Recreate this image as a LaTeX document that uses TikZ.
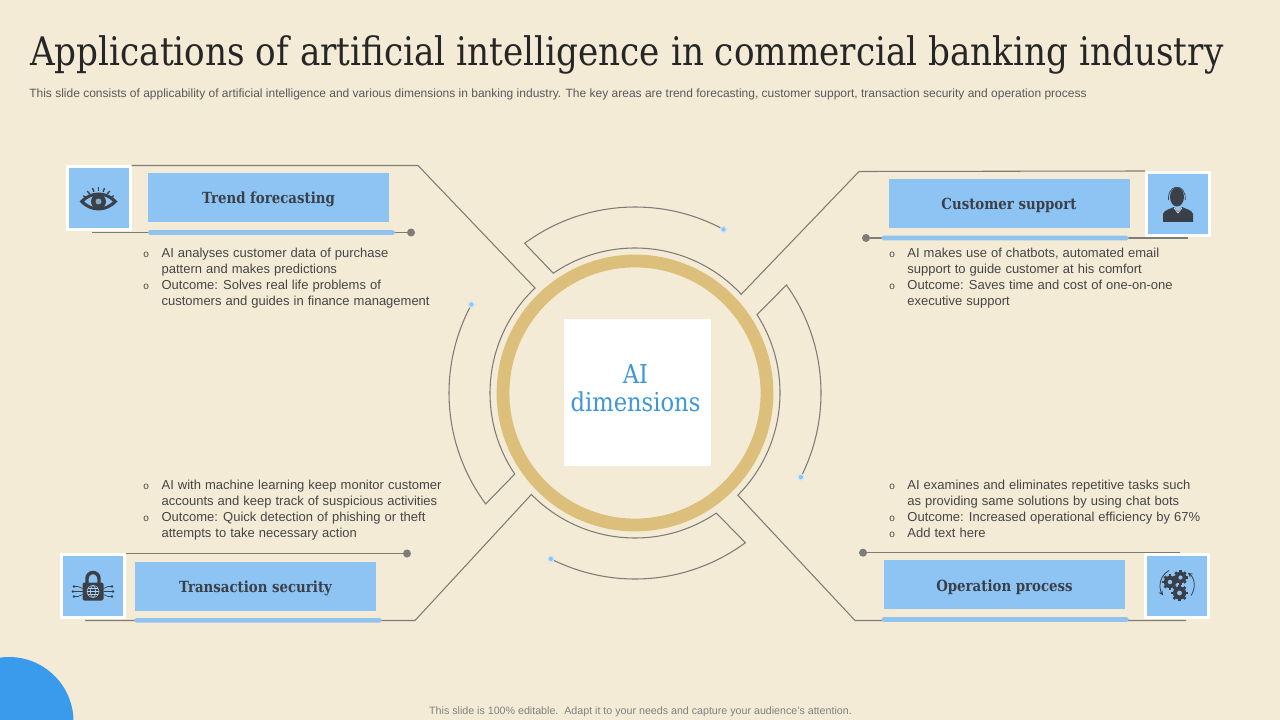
\documentclass[tikz,border=0pt]{standalone}
\usepackage{fontspec}
\setmainfont{Liberation Sans}
\newfontfamily\slabfont[FakeStretch=0.87]{DejaVu Serif}
\usetikzlibrary{positioning,calc}
\definecolor{pagebg}{HTML}{F4EBD7}
\definecolor{tileblue}{HTML}{8DC4F4}
\definecolor{barblue}{HTML}{90C4EE}
\definecolor{ringgold}{HTML}{DBBF7A}
\definecolor{linegray}{HTML}{7F7B75}
\definecolor{inkdark}{HTML}{3A3F48}
\definecolor{bodyink}{HTML}{454545}
\definecolor{centerblue}{HTML}{3D97D8}
\definecolor{cornerblue}{HTML}{3A9BEC}
\tikzset{
	x=0.75pt,y=-0.75pt,
	frameline/.style={draw=linegray,line width=0.8pt},
	icontile/.style={draw=white,line width=2.25pt,fill=tileblue,minimum size=47.25pt,inner sep=0pt},
	labelbox/.style={fill=tileblue,minimum width=180.75pt,minimum height=36.75pt,inner sep=0pt,text height=9.75pt,text depth=0pt,text=inkdark,font=\slabfont\bfseries\fontsize{11.5}{14}\selectfont},
	underbar/.style={fill=barblue,rounded corners=1.2pt,minimum width=185.25pt,minimum height=3.4pt,inner sep=0pt},
	enddot/.style={circle,fill=linegray,minimum size=6pt,inner sep=0pt},
	tipdot/.style={circle,fill=barblue,draw=white!60!barblue,line width=1pt,minimum size=4.5pt,inner sep=0pt},
	bullets/.style={anchor=north west,inner sep=0pt,text=bodyink,font=\fontsize{9.75}{12}\selectfont},
	iconfill/.style={fill=inkdark,draw=none},
	iconline/.style={draw=inkdark,line width=0.7pt}
}
\newcommand{\itemrows}[1]{\spaceskip=.31em\begin{tabular}{@{}p{13.6pt}@{}l@{}}#1\end{tabular}}
\newcommand{\itemmark}{{\fontsize{7.5}{9}\selectfont o}}
\newcommand{\gearicon}[3]{
	\foreach \tooth in {0,45,...,315}
		\draw[inkdark,line width=2pt] (#1,#2)+(\tooth:#3*0.7) -- +(\tooth:#3*1.12);
	\fill[inkdark] (#1,#2) circle[radius=#3*0.88];
	\fill[tileblue] (#1,#2) circle[radius=#3*0.32];
}
\begin{document}
\begin{tikzpicture}
	\useasboundingbox (0,0) rectangle (1280,720);
	\fill[pagebg] (0,0) rectangle (1280,720);
	\begin{scope}
		\clip (0,0) rectangle (1280,720);
		\fill[cornerblue] (9,721.5) circle[radius=64.5];
	\end{scope}

	\node[anchor=base west,inner sep=0pt,text=black!85] (title) at (30,66) {\slabfont\fontsize{29.5}{32}\selectfont Applications of artificial intelligence in commercial banking industry};
	\node[anchor=base west,inner sep=0pt,text=black!65] (subtitle) at (29,98) {\fontsize{9}{11}\selectfont This slide consists of applicability of artificial intelligence and various dimensions in banking industry. The key areas are trend forecasting, customer support, transaction security and operation process};
	\node[anchor=base,inner sep=0pt,text=black!50] (footer) at (640.5,714) {\fontsize{8}{10}\selectfont This slide is 100\% editable.\ \ Adapt it to your needs and capture your audience's attention.};

	\coordinate (center) at (635,393);
	\draw[ringgold,line width=9.6pt] (center) circle[radius=132];
	\node[fill=white,minimum size=110.5pt,inner sep=0pt] (aibox) at (637.5,392.7) {};
	\node[inner sep=0pt,text=centerblue,align=center,font=\slabfont\fontsize{19.5}{21}\selectfont] (ailabel) at (635.5,388) {AI\\dimensions};

	\node[icontile] (trendicon) at (98.5,198.5) {};
	\node[icontile] (supporticon) at (1178,204) {};
	\node[icontile] (securityicon) at (93,585.5) {};
	\node[icontile] (processicon) at (1177,585.5) {};

	\node[labelbox] (trendbox) at (268.5,197.3) {Trend forecasting};
	\node[labelbox] (supportbox) at (1009,203.5) {Customer support};
	\node[labelbox] (securitybox) at (255.5,586) {Transaction security};
	\node[labelbox] (processbox) at (1004.5,584.5) {Operation process};

	\node[enddot] (trenddot) at (411,232.5) {};
	\node[enddot] (supportdot) at (866,238) {};
	\node[enddot] (securitydot) at (407,553.5) {};
	\node[enddot] (processdot) at (863,552.7) {};

	\coordinate (trendbend) at (418,165.5);
	\coordinate (supportbend) at (859,171.5);
	\coordinate (securitybend) at (415,620.5);
	\coordinate (processbend) at (855,620.5);
	\coordinate (trendtail) at (92,232.5);
	\coordinate (supporttail) at (1188,238);
	\coordinate (securitytail) at (85,620.5);
	\coordinate (processtail) at (1186,620.5);
	\coordinate (securitytop) at (126,553.5);
	\coordinate (processtop) at (1180,552.7);

	\draw[frameline] (trendicon.north east) -- (trendbend) -- ($(center)+(226.4:145)$) arc[start angle=226.4,end angle=146,radius=145] -- ($(center)+(143.4:186)$) arc[start angle=143.4,end angle=208.4,radius=186] coordinate (trendtip);
	\draw[frameline] (supporticon.north west) -- (supportbend) -- ($(center)+(317.1:145)$) arc[start angle=317.1,end angle=235.7,radius=145] -- ($(center)+(233.6:186)$) arc[start angle=233.6,end angle=298.4,radius=186] coordinate (supporttip);
	\draw[frameline] (processtail) -- (processbend) -- ($(center)+(44.8:145)$) arc[start angle=44.8,end angle=-32.7,radius=145] -- ($(center)+(-35.5:186)$) arc[start angle=-35.5,end angle=26.9,radius=186] coordinate (processtip);
	\draw[frameline] (securitytail) -- (securitybend) -- ($(center)+(135.6:145)$) arc[start angle=135.6,end angle=55.9,radius=145] -- ($(center)+(53.6:186)$) arc[start angle=53.6,end angle=116.9,radius=186] coordinate (securitytip);

	\draw[frameline] (trendtail) -- (trenddot);
	\draw[frameline] (supportdot) -- (supporttail);
	\draw[frameline] (securitytop) -- (securitydot);
	\draw[frameline] (processdot) -- (processtop);

	\node[tipdot] at (trendtip) {};
	\node[tipdot] at (supporttip) {};
	\node[tipdot] at (processtip) {};
	\node[tipdot] at (securitytip) {};

	\node[underbar] (trendbar) at (271.5,232.5) {};
	\node[underbar] (supportbar) at (1005,238) {};
	\node[underbar] (securitybar) at (258,620.3) {};
	\node[underbar] (processbar) at (1005,619.5) {};

	\node[bullets] (trendtext) at (143.2,246) {\itemrows{\itemmark & AI analyses customer data of purchase\\ & pattern and makes predictions\\ \itemmark & Outcome: Solves real life problems of\\ & customers and guides in finance management}};
	\node[bullets] (supporttext) at (889,246) {\itemrows{\itemmark & AI makes use of chatbots, automated email\\ & support to guide customer at his comfort\\ \itemmark & Outcome: Saves time and cost of one-on-one\\ & executive support}};
	\node[bullets] (securitytext) at (143.2,478) {\itemrows{\itemmark & AI with machine learning keep monitor customer\\ & accounts and keep track of suspicious activities\\ \itemmark & Outcome: Quick detection of phishing or theft\\ & attempts to take necessary action}};
	\node[bullets] (processtext) at (889,478) {\itemrows{\itemmark & AI examines and eliminates repetitive tasks such\\ & as providing same solutions by using chat bots\\ \itemmark & Outcome: Increased operational efficiency by 67\%\\ \itemmark & Add text here}};

	\begin{scope}[shift={(trendicon.center)}]
		\draw[iconfill,even odd rule] (-19,3) .. controls (-8,-9) and (8,-9) .. (19,3) .. controls (8,15) and (-8,15) .. (-19,3) -- (-14.5,3) .. controls (-6,11) and (6,11) .. (14.5,3) .. controls (6,-5) and (-6,-5) .. (-14.5,3);
		\fill[inkdark] (0,3) circle[radius=7.5];
		\fill[tileblue!60!gray] (0,3) circle[radius=3];
		\foreach \lash in {-60,-40,-20,0,20,40,60}
			\draw[iconline,line width=1pt] (0,6)+(\lash-90:13.5) -- +(\lash-90:17.5);
	\end{scope}

	\begin{scope}[shift={(supporticon.center)}]
		\fill[inkdark] (-15,18) -- (-15,10) .. controls (-14,6) and (-8,5) .. (-4,3) -- (0,8) -- (4,3) .. controls (8,5) and (14,6) .. (15,10) -- (15,18) -- cycle;
		\fill[inkdark] (-1,-7) ellipse[x radius=7,y radius=9.5];
		\draw[iconline,line width=0.5pt] (-9.5,-4) arc[start angle=170,end angle=370,x radius=8.5,y radius=11];
		\draw[white!70!tileblue,line width=0.5pt] (-4,4) -- (0,9) -- (4,4);
	\end{scope}

	\begin{scope}[shift={(securityicon.center)}]
		\draw[inkdark,line width=2.6pt] (-6,0) -- (-6,-7) arc[start angle=180,end angle=360,radius=6] -- (6,0);
		\fill[inkdark,rounded corners=1.5pt] (-10.5,-3) rectangle (10.5,15);
		\draw[tileblue!70!white,line width=0.4pt] (0,6) circle[radius=6] (0,6) ellipse[x radius=2.6,y radius=6] (-6,6) -- (6,6) (-5.2,3) -- (5.2,3) (-5.2,9) -- (5.2,9);
		\foreach \sgn in {-1,1}{
			\draw[iconline,line width=0.5pt] (\sgn*10.5,3) -- (\sgn*15,1) -- (\sgn*19,1);
			\draw[iconline,line width=0.5pt] (\sgn*10.5,6) -- (\sgn*20,6);
			\draw[iconline,line width=0.5pt] (\sgn*10.5,9) -- (\sgn*15,11) -- (\sgn*19,11);
			\fill[inkdark] (\sgn*19,1) circle[radius=1.4] (\sgn*20,6) circle[radius=1.4] (\sgn*19,11) circle[radius=1.4];
		}
	\end{scope}

	\begin{scope}[shift={(processicon.center)}]
		\gearicon{-7}{-3.5}{7}
		\gearicon{3.5}{-8}{6.5}
		\gearicon{2.5}{7.5}{7.5}
		\draw[iconline,line width=0.6pt,->,>=stealth] (-8,-15) arc[start angle=242,end angle=145,radius=17];
		\draw[iconline,line width=0.6pt,->,>=stealth] (14,10) arc[start angle=35,end angle=-50,radius=17];
	\end{scope}
\end{tikzpicture}
\end{document}
